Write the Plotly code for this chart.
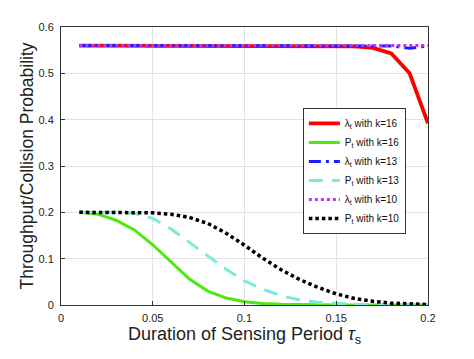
import plotly.graph_objects as go

tau = [0.01, 0.02, 0.03, 0.04, 0.05, 0.06, 0.07, 0.08, 0.09, 0.10,
       0.11, 0.12, 0.13, 0.14, 0.15, 0.16, 0.17, 0.18, 0.19, 0.20]

lam_k16 = [0.56, 0.56, 0.56, 0.56, 0.56, 0.56, 0.56, 0.56, 0.56, 0.56,
           0.56, 0.56, 0.56, 0.56, 0.56, 0.558, 0.555, 0.543, 0.50, 0.392]
p_k16 = [0.200, 0.196, 0.183, 0.162, 0.130, 0.092, 0.056, 0.030, 0.015, 0.007,
         0.003, 0.0015, 0.0007, 0.0003, 0.0001, 0.0, 0.0, 0.0, 0.0, 0.0]
lam_k13 = [0.56, 0.56, 0.56, 0.56, 0.56, 0.56, 0.56, 0.56, 0.56, 0.56,
           0.56, 0.56, 0.56, 0.56, 0.56, 0.56, 0.56, 0.559, 0.554, 0.559]
p_k13 = [0.200, 0.200, 0.200, 0.198, 0.187, 0.164, 0.135, 0.105, 0.077, 0.052,
         0.034, 0.020, 0.011, 0.006, 0.003, 0.0015, 0.0007, 0.0003, 0.0001, 0.0]
lam_k10 = [0.56] * 20
p_k10 = [0.200, 0.200, 0.200, 0.200, 0.199, 0.196, 0.189, 0.176, 0.155, 0.129,
         0.101, 0.076, 0.055, 0.038, 0.024, 0.014, 0.008, 0.004, 0.002, 0.001]

names = ["λ<sub>t</sub> with k=16", "P<sub>t</sub> with k=16",
         "λ<sub>t</sub> with k=13", "P<sub>t</sub> with k=13",
         "λ<sub>t</sub> with k=10", "P<sub>t</sub> with k=10"]
series = [lam_k16, p_k16, lam_k13, p_k13, lam_k10, p_k10]
colors = ["#ff0000", "#4fe80f", "#1c1cff", "#78ecd9", "#b53be8", "#000000"]
dashes = ["solid", "solid", "12px,5px,3px,5px", "14px,9px", "3px,3px", "3.5px,3px"]
widths = [3.8, 3, 3, 3, 3, 3.5]

fig = go.Figure()
for n, s, c, d, w in zip(names, series, colors, dashes, widths):
    fig.add_trace(go.Scatter(x=tau, y=s, mode="lines", name=n,
                             line=dict(color=c, dash=d, width=w)))

axis_common = dict(showgrid=True, gridcolor="#e3e3e3", gridwidth=1,
                   showline=True, linecolor="#333333", linewidth=1, mirror=True,
                   ticks="inside", ticklen=4, tickcolor="#333333",
                   tickfont=dict(family="Liberation Sans, Arial", size=11, color="#222"),
                   zeroline=False, automargin=False)

# page body adds an 8px offset; figure size/margins compensate for it
fig.update_layout(
    width=466, height=351,
    margin=dict(l=53, r=46, t=19, b=54),
    paper_bgcolor="white", plot_bgcolor="white",
    font=dict(family="Liberation Sans, Arial", color="#222"),
    xaxis=dict(range=[0, 0.2], tickvals=[0, 0.05, 0.1, 0.15, 0.2],
               ticktext=["0", "0.05", "0.1", "0.15", "0.2"],
               ticklabelstandoff=3,
               title=dict(text="Duration of Sensing Period <i>τ</i><sub>s</sub>",
                          font=dict(size=18), standoff=4),
               **axis_common),
    yaxis=dict(range=[0, 0.6], tickvals=[0, 0.1, 0.2, 0.3, 0.4, 0.5, 0.6],
               ticktext=["0", "0.1", "0.2", "0.3", "0.4", "0.5", "0.6"],
               ticklabelstandoff=4,
               title=dict(text="Throughput/Collision Probability",
                          font=dict(size=17.5), standoff=0),
               **axis_common),
    showlegend=True,
    legend=dict(x=0.659, y=0.709, xanchor="left", yanchor="top",
                bgcolor="white", bordercolor="#333333", borderwidth=1,
                font=dict(family="Liberation Sans, Arial", size=10, color="#111"),
                tracegroupgap=0, itemwidth=31),
)

fig.write_html("out.html")
